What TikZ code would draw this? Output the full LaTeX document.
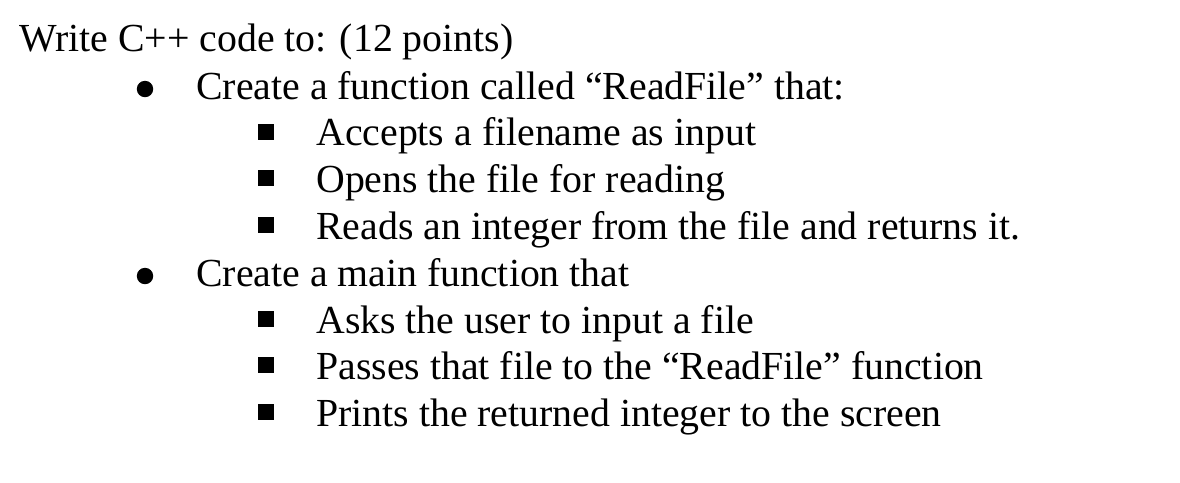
\documentclass[tikz,border=0pt]{standalone}
\usepackage{fontspec}
\setmainfont{Liberation Serif}
\usepackage{tikz}

\begin{document}
\begin{tikzpicture}[x=0.025cm, y=-0.025cm,
		txt/.style={anchor=base west, inner sep=0pt, font=\fontsize{28.3}{34}\selectfont},
		dot/.style={circle, fill=black, inner sep=0pt, minimum size=0.41cm},
		sq/.style={rectangle, fill=black, inner sep=0pt, minimum size=0.4cm}]
		\useasboundingbox[fill=white] (0, 0) rectangle (1180, 482);

		\node[txt] at (19, 51) (title) {Write C++ code to: (12 points)};

		\node[dot] at (145, 89) (d1) {};
		\node[txt] at (196, 99) (f1) {Create a function called “ReadFile” that:};
		\node[sq] at (266, 132) (s1) {};
		\node[txt] at (316, 145) (a1) {Accepts a filename as input};
		\node[sq] at (266, 178) (s2) {};
		\node[txt] at (316, 192) (a2) {Opens the file for reading};
		\node[sq] at (266, 225) (s3) {};
		\node[txt] at (316, 239) (a3) {Reads an integer from the file and returns it.};

		\node[dot] at (145, 276) (d2) {};
		\node[txt] at (196, 286) (f2) {Create a main function that};
		\node[sq] at (266, 319) (s4) {};
		\node[txt] at (316, 333) (m1) {Asks the user to input a file};
		\node[sq] at (266, 365) (s5) {};
		\node[txt] at (316, 379) (m2) {Passes that file to the “ReadFile” function};
		\node[sq] at (266, 412) (s6) {};
		\node[txt] at (316, 426) (m3) {Prints the returned integer to the screen};
	\end{tikzpicture}
\end{document}
